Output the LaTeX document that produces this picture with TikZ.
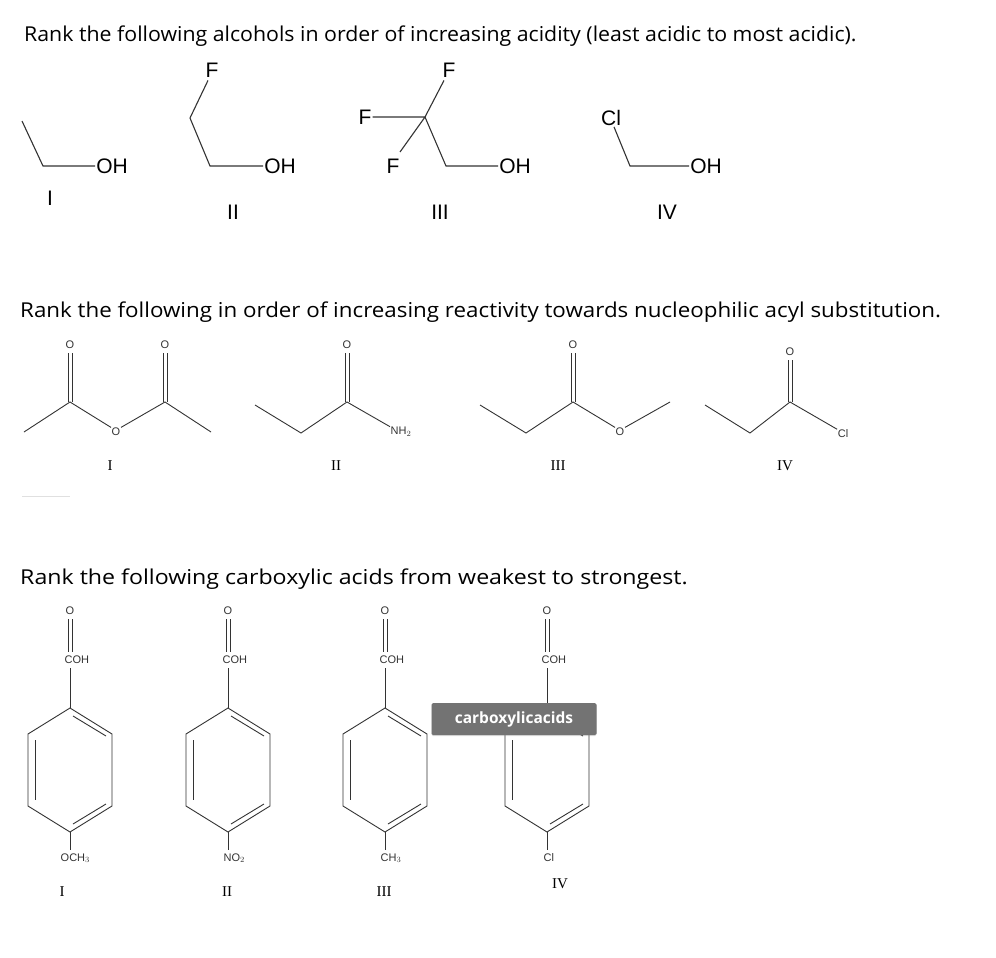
\documentclass[tikz,border=0pt]{standalone}
\usepackage{fontspec}
\usetikzlibrary{shadows}
\setmainfont{Open Sans}
\newfontfamily\arialf{Liberation Sans}
\newfontfamily\timesf{Liberation Serif}
\tikzset{bond/.style={line width=1.1pt,black!80},
 ttl/.style={anchor=west,inner sep=0,font=\fontsize{20.5}{22}\selectfont},
 big/.style={inner sep=1pt,font=\arialf\fontsize{21}{24}\selectfont},
 sm/.style={inner sep=0.5pt,font=\arialf\fontsize{11}{12}\selectfont,text=black!80},
 rom/.style={inner sep=0,font=\timesf\fontsize{15}{16}\selectfont}}
\newcommand\myring[2]{%
 \draw[bond] (#1,#2-62)--(#1+42,#2-36)--(#1+42,#2+36)--(#1,#2+62)--(#1-42,#2+36)--(#1-42,#2-36)--cycle;
 \draw[bond] (#1+3,#2-54)--(#1+36,#2-34);
 \draw[bond] (#1-35,#2-30)--(#1-35,#2+30);
 \draw[bond] (#1+3,#2+54)--(#1+36,#2+34);}
\newcommand\acid[3]{%
 \node[sm] at (#1,611) {O};
 \draw[bond] (#1-2,619)--(#1-2,652); \draw[bond] (#1+2,619)--(#1+2,652);
 \node[sm,anchor=west] at (#1-6,660) {COH};
 \draw[bond] (#1,668)--(#1,708);
 \myring{#1}{770}
 \draw[bond] (#1,832)--(#1,850);
 \node[sm,anchor=west] at (#1-#3,858) {#2};}
\begin{document}
\begin{tikzpicture}[x=1pt,y=-1pt]
\useasboundingbox[fill=white] (0,0) rectangle (996,958);
\node[ttl,xscale=1.04] (t1) at (24,36) {Rank the following alcohols in order of increasing acidity (least acidic to most acidic).};
% I
\node[big] (oh1) at (112,166) {OH};
\draw[bond] (22,121)--(43,166)--(oh1.west);
\node[big] at (50,198) {I};
% II
\node[big] (f2) at (212,70) {F};
\node[big] (oh2) at (280,166) {OH};
\draw[bond] (f2.south)++(-4,2)--(190,118)--(210,166)--(oh2.west);
\node[big] at (233,212) {II};
% III
\node[big] (f3a) at (449,70) {F};
\node[big] (f3b) at (365,117) {F};
\node[big] (f3c) at (393,166) {F};
\node[big] (oh3) at (515,166) {OH};
\draw[bond] (f3a.south)++(-5,2)--(425,117)--(446,166)--(oh3.west);
\draw[bond] (f3b.east)--(425,117)--(400,152);
\node[big] at (440,212) {III};
% IV
\node[big] (cl4) at (611,118) {Cl};
\node[big] (oh4) at (706,166) {OH};
\draw[bond] (cl4.south)++(3,0)--(630,166)--(oh4.west);
\node[big] at (667,212) {IV};

\node[ttl,xscale=1.09] (t2) at (20,312) {Rank the following in order of increasing reactivity towards nucleophilic acyl substitution.};
\tikzset{bond/.style={line width=0.9pt,black!80}}
% row 2 I
\node[sm] (o1) at (70,345) {O}; \node[sm] (o1b) at (165,345) {O}; \node[sm] (o1c) at (116,432) {O};
\draw[bond] (68,353)--(68,402); \draw[bond] (72,353)--(72,402);
\draw[bond] (163,353)--(163,402); \draw[bond] (167,353)--(167,402);
\draw[bond] (24,432)--(70,402)--(o1c.north west) (o1c.north east)--(165,402)--(211,432);
\node[rom] at (110,466) {I};
% II
\node[sm] (o2) at (347,345) {O}; \node[sm,anchor=west] (n2) at (390,432) {NH$_2$};
\draw[bond] (345,353)--(345,402); \draw[bond] (349,353)--(349,402);
\draw[bond] (255,405)--(301,433)--(347,402)--(n2.north west);
\node[rom] at (336,466) {II};
% III
\node[sm] (o3) at (573,345) {O}; \node[sm] (o3b) at (620,432) {O};
\draw[bond] (571,353)--(571,402); \draw[bond] (575,353)--(575,402);
\draw[bond] (480,405)--(526,433)--(573,402)--(o3b.north west) (o3b.north east)--(670,402);
\node[rom] at (558,466) {III};
% IV
\node[sm] (o4) at (790,352) {O}; \node[sm] (cl) at (843,434) {Cl};
\draw[bond] (788,360)--(788,402); \draw[bond] (792,360)--(792,402);
\draw[bond] (705,405)--(750,433)--(790,402)--(cl.north west);
\node[rom] at (785,466) {IV};
\draw[black!12,line width=0.8pt] (22,496)--(70,496);

\node[ttl,xscale=1.13] (t3) at (20,579) {Rank the following carboxylic acids from weakest to strongest.};
\acid{70}{OCH$_3$}{10}
\acid{228}{NO$_2$}{5}
\acid{385}{CH$_3$}{5}
\acid{547}{Cl}{4}
\node[rom] at (62,892) {I};
\node[rom] at (227,892) {II};
\node[rom] at (384,892) {III};
\node[rom] at (560,884) {IV};
\node[fill=black!55,rounded corners=1.5pt,minimum width=165pt,minimum height=32pt,inner sep=0,
 text=white,font=\bfseries\fontsize{15.5}{17}\selectfont,
 drop shadow={shadow xshift=0pt,shadow yshift=-1pt,opacity=.25}] (tip) at (514,719) {carboxylicacids};
\end{tikzpicture}
\end{document}
